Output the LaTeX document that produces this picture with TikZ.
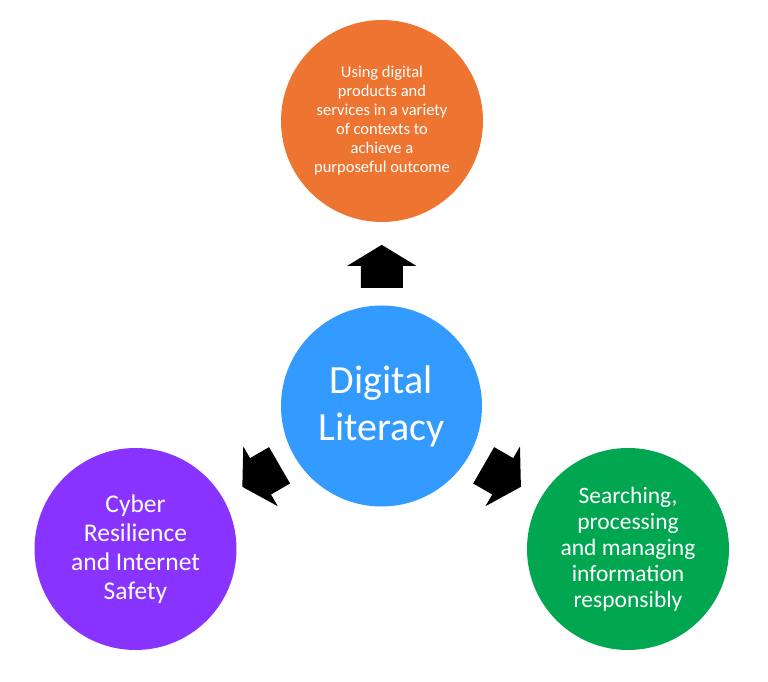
\documentclass[tikz,border=0pt]{standalone}
\usepackage{fontspec}
\setmainfont{Carlito}
\usepackage{tikz}
\usetikzlibrary{calc}

\definecolor{litblue}{HTML}{339AFF}
\definecolor{useorange}{HTML}{EE7531}
\definecolor{cyberpurple}{HTML}{8833FF}
\definecolor{infogreen}{HTML}{00A650}

\begin{document}
\begin{tikzpicture}[x=1pt,y=1pt,
		bubble/.style={circle,minimum size=202pt,inner sep=0pt,text=white,align=center},
		blockarr/.pic={\fill[black] (-21.5,-21) -- (0.5,-21) -- (0.5,-34.5) -- (21.5,0)
			-- (0.5,34.5) -- (0.5,21) -- (-21.5,21) -- cycle;}]
					\useasboundingbox (0,0) rectangle (768,682);
					% circles
					\node[bubble,minimum size=201pt,fill=litblue,font=\fontsize{40}{47}\selectfont] (lit) at (381.5,276) {Digital\\Literacy};
					\node[bubble,fill=useorange,font=\fontsize{16.5}{19}\selectfont] (use) at (382,561)
					{Using digital\\products and\\services in a variety\\of contexts to\\achieve a\\purposeful outcome};
					\node[bubble,fill=cyberpurple,font=\fontsize{25.5}{29}\selectfont] (cyber) at (135.5,133)
					{Cyber\\Resilience\\and Internet\\Safety};
					\node[bubble,fill=infogreen,font=\fontsize{23.5}{26}\selectfont] (info) at (628,133)
					{Searching,\\processing\\and managing\\information\\responsibly};
					% arrows
					\foreach \t/\a in {use/90,cyber/210,info/330}
					\pic[rotate=\a] at ($(lit)!0.49!(\t)$) {blockarr};
				\end{tikzpicture}
\end{document}
